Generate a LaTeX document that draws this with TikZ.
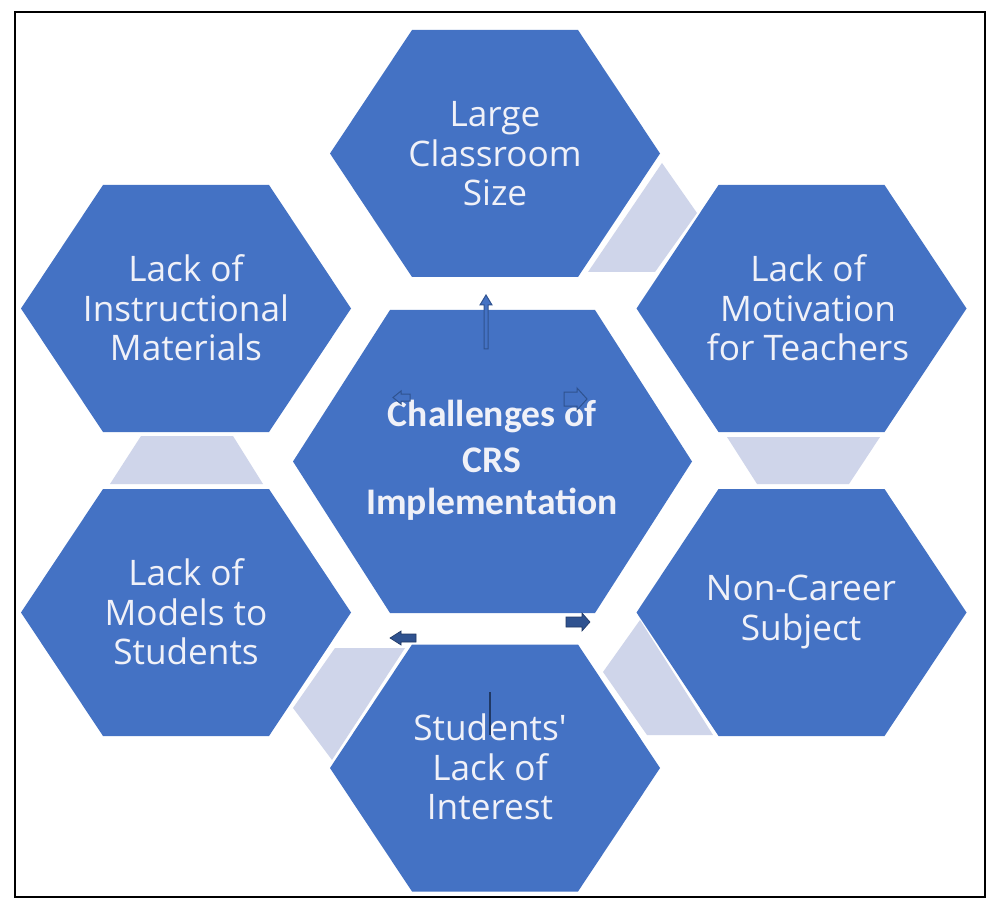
\documentclass[tikz,border=0pt]{standalone}
\usepackage{fontspec}
\setmainfont{Carlito}
\newfontfamily\osans{Open Sans}
\definecolor{hexblue}{HTML}{4472C4}
\definecolor{linkgray}{HTML}{CFD5EA}
\definecolor{txtwhite}{HTML}{F0F1F8}
\definecolor{navy}{HTML}{2F528F}
\definecolor{darknavy}{HTML}{203864}
\newcommand\hexshape[5]{%
  \fill[hexblue] (#1,#2) ++(-#3,0) -- ++({#3-#4},{-#5}) -- ++({2*#4},0)
    -- ++({#3-#4},{#5}) -- ++({-(#3-#4)},{#5}) -- ++({-2*#4},0) -- cycle;}
\tikzset{
  hextext/.style={text=txtwhite, align=center, font=\osans\fontsize{17.6}{19.8}\selectfont, inner sep=0pt},
  centertext/.style={text=txtwhite, align=center, font=\fontsize{18.8}{21}\selectfont\bfseries, inner sep=0pt},
  link/.style={fill=linkgray},
  outarrow/.style={fill=hexblue, draw=navy, line width=0.5pt, line join=miter},
  solidarrow/.style={fill=navy, draw=darknavy, line width=0.3pt},
}
\begin{document}
\begin{tikzpicture}[x=0.5pt,y=-0.5pt]
\useasboundingbox (0,0) rectangle (1000,903);
\fill[white] (0,0) rectangle (1000,903);
% frame
\draw[black, line width=1pt] (15,12) rectangle (985,897);
% connector ribbons
\fill[link] (662,163) -- (697,213) -- (655,272) -- (588,272) -- cycle;
\fill[link] (727,437) -- (880,437) -- (849,484) -- (757,484) -- cycle;
\fill[link] (640,620) -- (713,735) -- (647,735) -- (603,672) -- cycle;
\fill[link] (405,648) -- (332,760) -- (293,708) -- (335,648) -- cycle;
\fill[link] (141,436) -- (233,436) -- (263,484) -- (110,484) -- cycle;
% hexagons
\hexshape{495}{153.5}{165}{83}{123.5}
\hexshape{801.5}{308.5}{165}{83}{123.5}
\hexshape{801.5}{612.5}{165}{83}{123.5}
\hexshape{495}{768}{165}{83}{123.5}
\hexshape{186}{612.5}{165}{83}{123.5}
\hexshape{186}{308.5}{165}{83}{123.5}
\hexshape{492.5}{461.5}{199.5}{102.5}{151.5}
% texts
\node[hextext] (top) at (495,154) {Large\\Classroom\\Size};
\node[hextext] (ur) at (808,308) {Lack of\\Motivation\\for Teachers};
\node[hextext] (lr) at (801,612) {Non-Career\\Subject};
\node[hextext] (bot) at (490,767) {Students'\\Lack of\\Interest};
\node[hextext] (ll) at (186,612) {Lack of\\Models to\\Students};
\node[hextext] (ul) at (186,308) {Lack of\\Instructional\\Materials};
\node[centertext] (ctr) at (492,460) {Challenges of\\[2pt]CRS\\Implementation};
% small stray arrows
\draw[outarrow] (484,349) -- (484,305) -- (480,305) -- (486,295) -- (492,305) -- (488,305) -- (488,349) -- cycle;
\draw[outarrow] (410,394) -- (401,394) -- (401,391) -- (393,397.5) -- (401,404) -- (401,401) -- (410,401) -- cycle;
\draw[outarrow] (564,392) -- (577,392) -- (577,388) -- (587,399) -- (577,410) -- (577,406) -- (564,406) -- cycle;
\draw[solidarrow] (566,617) -- (582,617) -- (582,613) -- (590,622) -- (582,631) -- (582,627) -- (566,627) -- cycle;
\draw[solidarrow] (416,634) -- (401,634) -- (401,631) -- (390,638) -- (401,645) -- (401,642) -- (416,642) -- cycle;
\draw[darknavy, line width=0.7pt] (490,692) -- (490,735);
\end{tikzpicture}
\end{document}
